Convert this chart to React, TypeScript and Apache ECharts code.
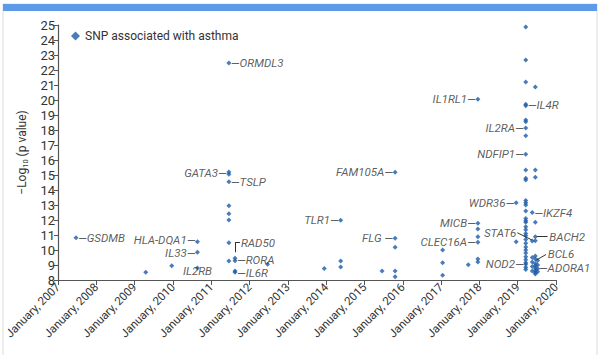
import React, { useEffect, useRef } from "react";
import * as echarts from "echarts";

const FONT = 'Roboto, "Liberation Sans", sans-serif';
const DOT = "#1c5ba6";
const INK = "#333";

// discovery date (decimal year) and -log10(p) of each SNP associated with asthma
const snpDates: number[] = [
  2007.47, 2009.29, 2009.97, 2010.64, 2010.64, 2010.64,
  2011.46, 2011.46, 2011.46, 2011.46, 2011.46, 2011.46, 2011.46, 2011.46, 2011.46,
  2011.62, 2011.62, 2011.62, 2011.62,
  2012.47, 2013.95, 2014.38, 2014.38, 2014.38, 2015.46,
  2015.8, 2015.8, 2015.8, 2015.8, 2015.8,
  2017.04, 2017.04, 2017.04, 2017.71,
  2017.96, 2017.96, 2017.96, 2017.96, 2017.96, 2017.96, 2017.96,
  2018.96, 2018.96,
  2019.21, 2019.21, 2019.21, 2019.21, 2019.21, 2019.21, 2019.21, 2019.21, 2019.21, 2019.21,
  2019.21, 2019.21, 2019.21, 2019.21, 2019.21, 2019.21, 2019.21, 2019.21, 2019.21, 2019.21,
  2019.21, 2019.21, 2019.21, 2019.21, 2019.21, 2019.21, 2019.21, 2019.21, 2019.21, 2019.21,
  2019.21, 2019.21, 2019.21, 2019.21, 2019.21,
  2019.38, 2019.38, 2019.38, 2019.38, 2019.38, 2019.38,
  2019.46, 2019.46, 2019.46, 2019.46, 2019.46, 2019.46, 2019.46, 2019.46, 2019.46, 2019.46,
  2019.46, 2019.46, 2019.46, 2019.46,
  2019.52, 2019.52, 2019.52, 2019.52,
];
const snpLogP: number[] = [
  10.82, 8.51, 8.95, 10.55, 9.85, 8.8,
  22.47, 15.2, 15.05, 14.55, 12.95, 12.42, 12.0, 10.48, 9.27,
  9.45, 9.29, 8.6, 8.51,
  9.05, 8.76, 11.98, 9.27, 8.87, 8.6,
  15.18, 10.78, 10.18, 8.6, 8.22,
  10.0, 9.15, 8.31, 9.02,
  20.05, 11.78, 11.4, 10.89, 10.51, 9.4, 9.2,
  13.15, 10.55,
  24.87, 22.67, 21.2, 19.71, 19.62, 18.67, 18.55, 18.13, 17.62, 16.38,
  15.33, 14.78, 14.67, 13.3, 13.15, 13.0, 12.6, 12.1, 11.95, 11.85,
  11.55, 11.35, 11.1, 10.95, 10.7, 10.45, 10.2, 10.0, 9.8, 9.55,
  9.35, 9.15, 9.05, 8.85, 8.7,
  12.5, 10.6, 9.5, 9.2, 8.9, 8.6,
  20.87, 15.33, 14.85, 11.85, 10.89, 10.62, 9.6, 9.4, 9.1, 8.95,
  8.8, 8.65, 8.5, 8.4,
  9.3, 9.0, 8.75, 8.55,
];

// gene labels: name, anchor date, anchor value, side
const geneNames: string[] = [
  "GSDMB", "HLA-DQA1", "IL33", "IL2RB", "ORMDL3", "GATA3", "TSLP", "RAD50", "RORA", "IL6R",
  "TLR1", "FAM105A", "FLG", "CLEC16A", "MICB", "IL1RL1", "IL4R", "IL2RA", "NDFIP1", "WDR36",
  "IKZF4", "STAT6", "BACH2", "NOD2", "BCL6", "ADORA1",
];
const geneDates: number[] = [
  2007.47, 2010.64, 2010.64, 2010.64, 2011.46, 2011.46, 2011.46, 2011.75, 2011.62, 2011.62,
  2014.38, 2015.8, 2015.8, 2017.96, 2017.96, 2017.96, 2019.21, 2019.21, 2019.21, 2018.96,
  2019.38, 2018.99, 2019.8, 2019.21, 2019.76, 2019.5,
];
const geneLogP: number[] = [
  10.82, 10.66, 9.8, 8.8, 22.47, 15.12, 14.55, 10.49, 9.36, 8.5,
  11.98, 15.18, 10.78, 10.51, 11.78, 20.05, 19.67, 18.13, 16.38, 13.15,
  12.5, 11.15, 10.89, 9.05, 9.72, 8.83,
];
const geneSides: string[] = [
  "right", "left", "left", "bottom", "right", "left", "right", "plain", "right", "right",
  "left", "left", "leftgap", "left", "left", "left", "right", "left", "left", "left",
  "right", "plainleft", "plain", "left", "plain", "right",
];

// leader lines that are not simple dashes: [date1, value1, date2, value2]
const leaderLines: number[][] = [
  [2011.62, 9.85, 2011.62, 10.49],
  [2011.62, 10.49, 2011.75, 10.49],
  [2018.99, 11.15, 2019.37, 10.67],
  [2019.5, 10.89, 2019.78, 10.89],
  [2019.5, 9.35, 2019.74, 9.7],
];

const yearTicks: number[] = [2007, 2020];

export default function App() {
  const ref = useRef<HTMLDivElement>(null);
  useEffect(() => {
    if (!ref.current) return;
    const chart = echarts.init(ref.current, undefined, { renderer: "svg" });

    const points = snpDates.map((d, i) => [d, snpLogP[i]]);
    const labels = geneNames.map((name, i) => {
      const side = geneSides[i];
      let text = name;
      let position: any = "right";
      let distance = 2;
      let offset = [0, 0];
      if (side === "right") { text = "\u2014" + name; position = "right"; distance = 2; }
      else if (side === "left") { text = name + "\u2014"; position = "left"; distance = 2; }
      else if (side === "leftgap") { text = name + " \u2014"; position = "left"; distance = 2; }
      else if (side === "bottom") { position = "bottom"; distance = 0; offset = [0, -3]; }
      else if (side === "plain") { position = "right"; distance = 1; }
      else if (side === "plainleft") { position = "left"; distance = 1; }
      return {
        value: [geneDates[i], geneLogP[i]],
        label: { show: true, formatter: text, position, distance, offset },
      };
    });

    chart.setOption({
      animation: false,
      textStyle: { fontFamily: FONT },
      graphic: [
        { type: "rect", shape: { x: 3, y: 4, width: 594, height: 360 }, style: { fill: "none", stroke: "#dcdcdc", lineWidth: 1 }, silent: true },
        { type: "rect", shape: { x: 3, y: 4, width: 594, height: 7 }, style: { fill: "#5d9be9" }, silent: true },
      ],
      legend: {
        left: 66,
        top: 25,
        itemWidth: 9,
        itemHeight: 9,
        itemGap: 4,
        data: [{ name: "SNP associated with asthma", icon: "diamond" }],
        textStyle: { fontFamily: FONT, fontSize: 12, color: INK },
      },
      grid: { left: 58, right: 44, top: 25, bottom: 75 },
      xAxis: {
        type: "value",
        min: yearTicks[0],
        max: yearTicks[1],
        interval: 1,
        splitLine: { show: false },
        axisLine: { show: true, lineStyle: { color: "#555", width: 1.2 } },
        axisTick: { show: true, length: 5, lineStyle: { color: "#555" } },
        axisLabel: {
          rotate: 45,
          margin: 5,
          fontFamily: FONT,
          fontSize: 11.5,
          color: INK,
          formatter: (v: number) => `January, ${v}`,
        },
      },
      yAxis: {
        type: "value",
        min: 8,
        max: 25,
        interval: 1,
        splitLine: { show: false },
        axisLine: { show: true, lineStyle: { color: "#555", width: 1.2 } },
        axisTick: { show: true, length: 4, lineStyle: { color: "#555" } },
        axisLabel: { fontFamily: FONT, fontSize: 13, color: INK, margin: 3 },
        name: "\u2212Log{s|10} (p value)",
        nameLocation: "middle",
        nameGap: 27,
        nameTextStyle: {
          fontFamily: FONT,
          fontSize: 12,
          color: INK,
          rich: { s: { fontFamily: FONT, fontSize: 7.5, color: INK, verticalAlign: "bottom", padding: [6, 0, 0, 0] } },
        },
      },
      series: [
        {
          name: "SNP associated with asthma",
          type: "scatter",
          symbol: "diamond",
          symbolSize: 5,
          itemStyle: { color: DOT },
          data: points,
          z: 3,
        },
        {
          name: "labels",
          type: "scatter",
          symbolSize: 0,
          silent: true,
          itemStyle: { color: "transparent" },
          label: {
            show: true,
            fontFamily: FONT,
            fontStyle: "italic",
            fontSize: 11.5,
            lineHeight: 11,
            color: INK,
          },
          data: labels,
          markLine: {
            silent: true,
            symbol: ["none", "none"],
            lineStyle: { color: INK, width: 1, type: "solid" },
            label: { show: false },
            data: leaderLines.map((l) => [{ coord: [l[0], l[1]] }, { coord: [l[2], l[3]] }]),
          },
          z: 4,
        },
      ],
    });
    return () => chart.dispose();
  }, []);
  return <div ref={ref} style={{ position: "absolute", left: 0, top: 0, width: 600, height: 355 }} />;
}
